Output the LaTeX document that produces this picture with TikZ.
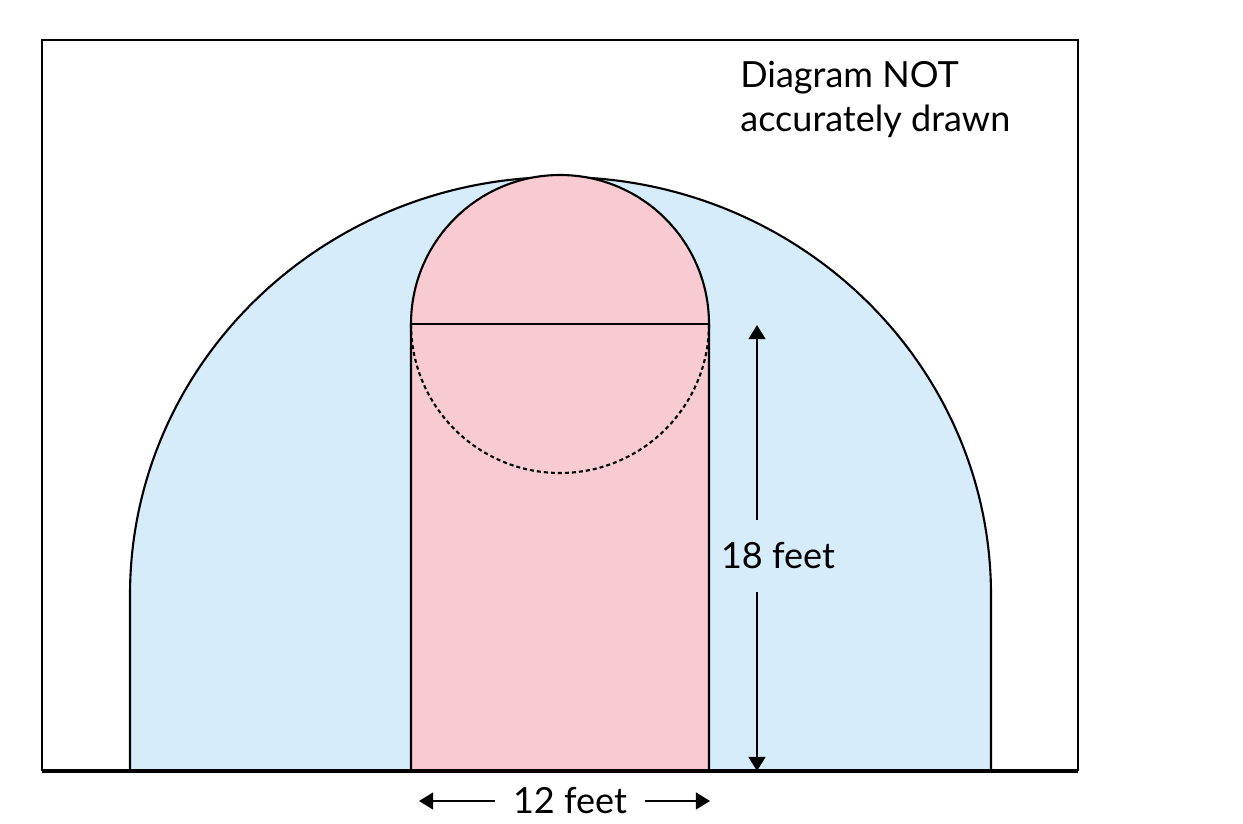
\documentclass[tikz,border=0pt]{standalone}
\usepackage{fontspec}
\setmainfont{Lato}
\usepackage{tikz}
\usetikzlibrary{arrows.meta}
\definecolor{courtblue}{RGB}{215,236,250}
\definecolor{keypink}{RGB}{248,203,211}

\tikzset{
  court/.style={draw=black,line width=1.2pt},
  dimarrow/.style={line width=1.2pt,-{Triangle[length=8pt,width=9.5pt]}},
  dimlabel/.style={font=\fontsize{20.5}{25}\selectfont,inner sep=0pt}
}

\begin{document}
\begin{tikzpicture}[x=0.02cm,y=0.02cm]
\useasboundingbox (0,0) rectangle (1243,823);

% three point area and the key
\fill[courtblue] (130,52) -- (130,228) arc[start angle=180,end angle=0,x radius=430.5,y radius=418] -- (991,52) -- cycle;
\draw[court] (130,52) -- (130,228) arc[start angle=180,end angle=0,x radius=430.5,y radius=418] -- (991,52);
\fill[keypink] (411,52) -- (411,499) arc[start angle=180,end angle=0,radius=149] -- (709,52) -- cycle;
\draw[court] (411,52) -- (411,499) arc[start angle=180,end angle=0,radius=149] -- (709,52);
\draw[court] (411,499) -- (709,499);
\draw[court,dash pattern=on 2.3pt off 1.7pt] (411,499) arc[start angle=180,end angle=360,radius=149];

% frame
\draw[line width=1.2pt] (42,52) -- (42,783) -- (1078,783) -- (1078,52);
\draw[line width=1.8pt] (42,52) -- (1078,52);

\node[dimlabel,align=left,anchor=north west] (note) at (740,762) {Diagram NOT\\accurately drawn};

% dimensions
\coordinate (tip18t) at (757,498);
\coordinate (tip18b) at (757,52);
\node[dimlabel,inner ysep=13pt] (ft18) at (778,267) {18 feet};
\draw[dimarrow] (ft18.north -| tip18t) -- (tip18t);
\draw[dimarrow] (ft18.south -| tip18b) -- (tip18b);

\coordinate (tip12l) at (419,22);
\coordinate (tip12r) at (710,22);
\node[dimlabel,inner xsep=10pt] (ft12) at (570,22) {12 feet};
\draw[dimarrow] (ft12.west) -- (tip12l);
\draw[dimarrow] (ft12.east) -- (tip12r);
\end{tikzpicture}
\end{document}
